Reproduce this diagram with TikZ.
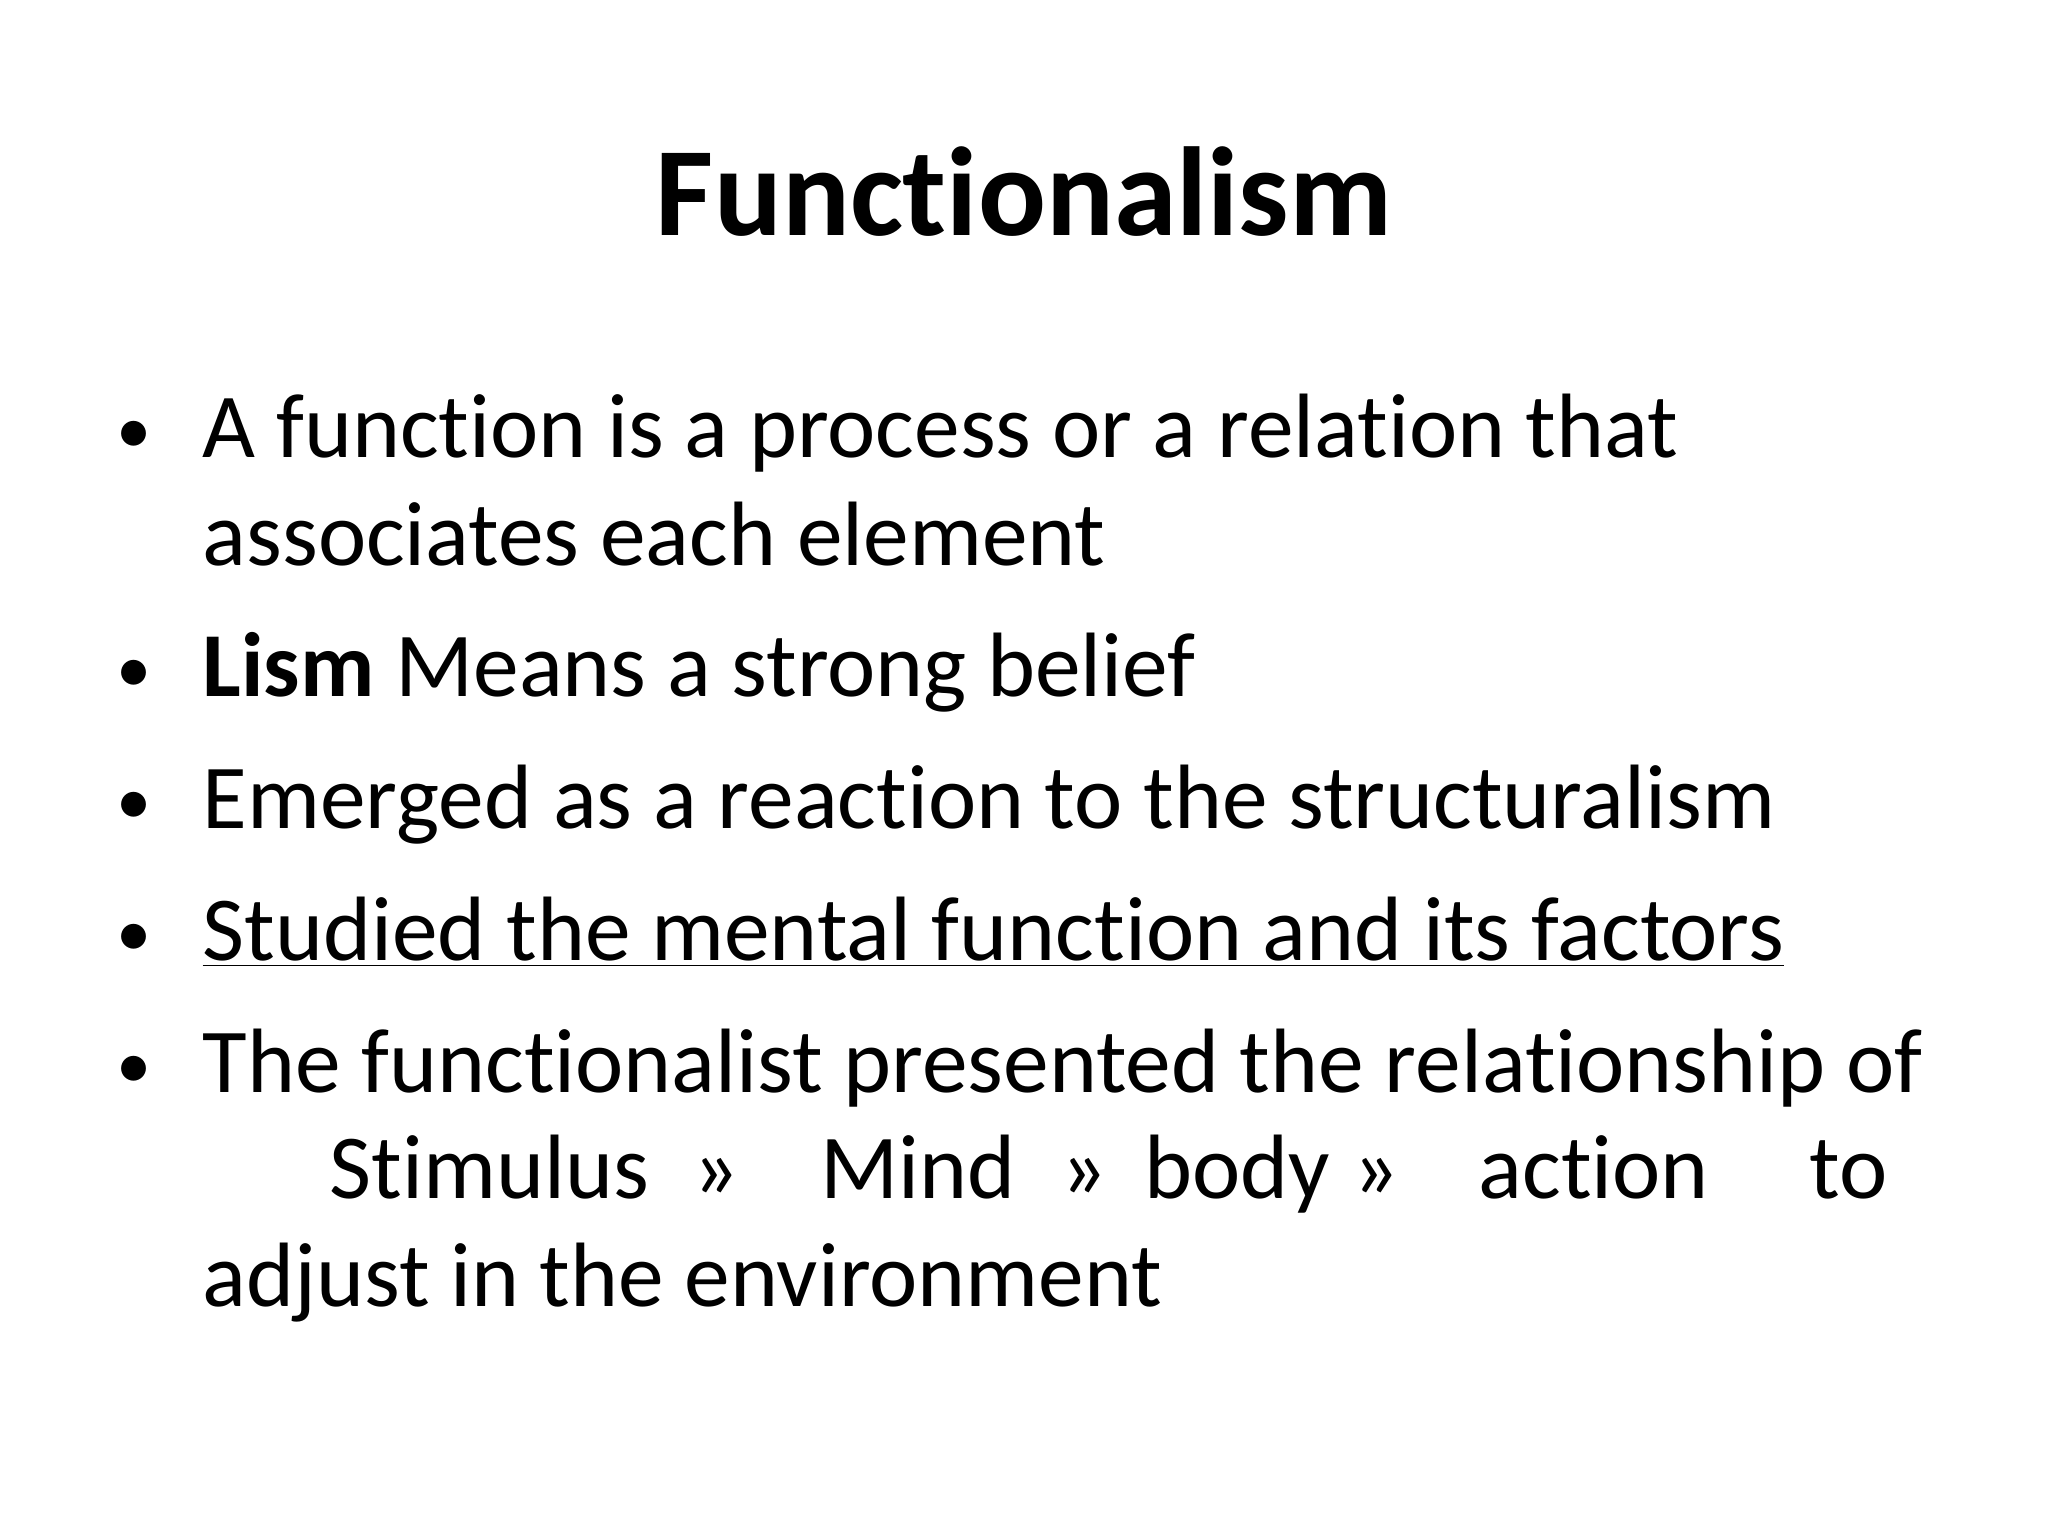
\documentclass[tikz,border=0pt]{standalone}
\usepackage{fontspec}
\setmainfont{Carlito}[Ligatures=NoCommon]
\begin{document}
\begin{tikzpicture}[x=0.01cm,y=-0.01cm,
  txt/.style={anchor=base west,inner sep=0pt,font=\fontsize{26}{31}\selectfont},
  bul/.style={anchor=base,inner sep=0pt,font=\fontsize{20}{24}\selectfont}]
\useasboundingbox (0,0) rectangle (2048,1536);
\node[anchor=base,inner sep=0pt,font=\fontsize{36}{42}\selectfont\bfseries] (title) at (1024,235) {Functionalism};
\foreach \y/\n in {457/b1,696/b2,828/b3,960/b4,1092/b5}{\node[bul] (\n) at (134,\y-4) {•};}
\node[txt] (l1) at (202,457) {A function is a process or a relation that};
\node[txt] (l2) at (202,565) {associates each element};
\node[txt] (l3) at (202,696) {\textbf{Lism} Means a strong belief};
\node[txt] (l4) at (202,828) {Emerged as a reaction to the structuralism};
\node[txt] (l5) at (202,960) {\underline{Studied the mental function and its factors}};
\node[txt] (l6) at (202,1092) {The functionalist presented the relationship of};
\node[txt] (s1) at (329,1198) {Stimulus};
\node[txt] (s2) at (692,1198) {»};
\node[txt] (s3) at (820,1198) {Mind};
\node[txt] (s4) at (1060,1198) {»};
\node[txt] (s5) at (1144,1198) {body};
\node[txt] (s6) at (1352,1198) {»};
\node[txt] (s7) at (1478,1198) {action};
\node[txt] (s8) at (1809,1198) {to};
\node[txt] (l8) at (202,1306) {adjust in the environment};
\end{tikzpicture}
\end{document}
